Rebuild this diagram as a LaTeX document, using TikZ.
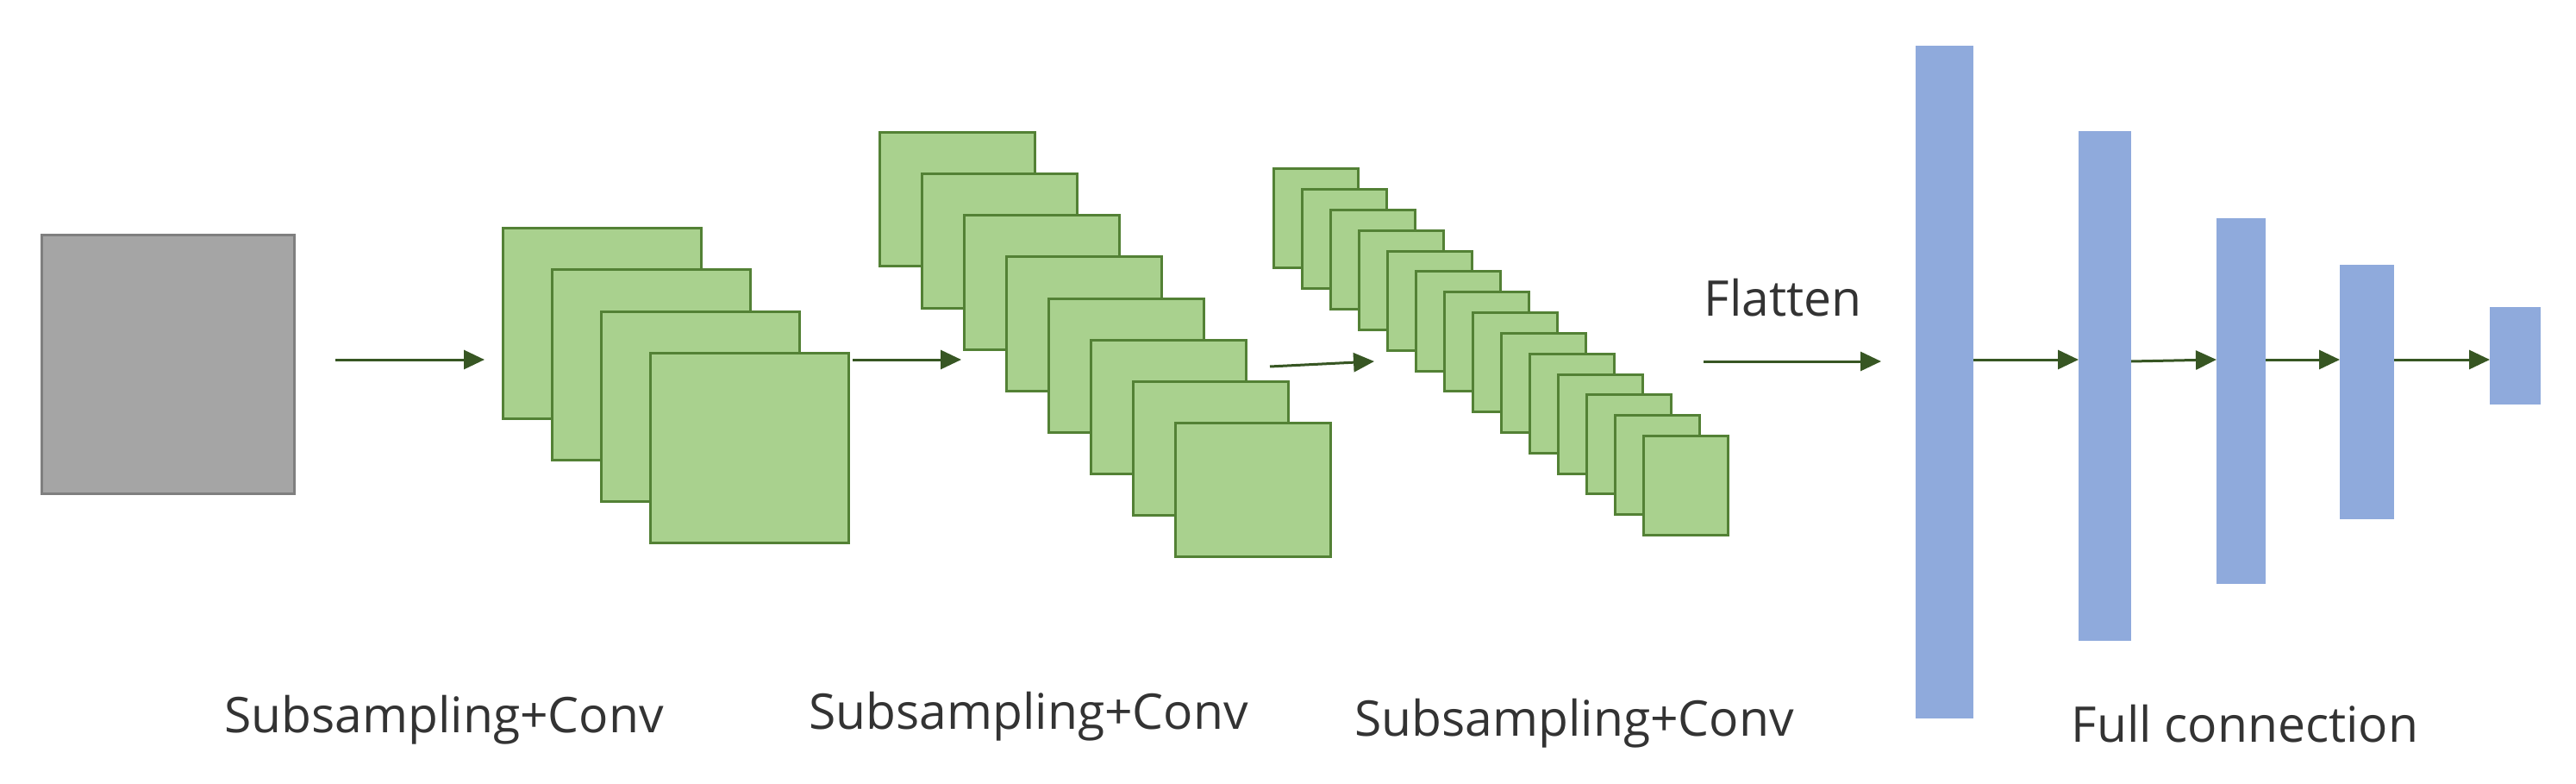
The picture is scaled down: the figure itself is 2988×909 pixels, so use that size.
\documentclass[tikz,border=0pt]{standalone}
\usepackage{fontspec}
\setmainfont{Open Sans}
\usetikzlibrary{arrows.meta}
\definecolor{gfill}{HTML}{A9D18E}
\definecolor{gdraw}{HTML}{538135}
\definecolor{grayf}{HTML}{A5A5A5}
\definecolor{grayd}{HTML}{7F7F7F}
\definecolor{bluef}{HTML}{8FAADC}
\definecolor{arrc}{HTML}{375623}
\begin{document}
\begin{tikzpicture}[x=1pt,y=-1pt,
  fm/.style={draw=gdraw,fill=gfill,line width=3pt,anchor=north west,inner sep=0pt,outer sep=0pt},
  bar/.style={fill=bluef,anchor=north west,inner sep=0pt,outer sep=0pt},
  arr/.style={draw=arrc,line width=3pt,-{Triangle[length=24pt,width=22pt]}},
  lbl/.style={font=\fontsize{57}{60}\selectfont,text=black!80}]
\useasboundingbox (0,0) rectangle (2988,909);
\node[draw=grayd,fill=grayf,line width=3pt,anchor=north west,inner sep=0pt,outer sep=0pt,minimum width=293pt,minimum height=299pt] (in) at (48,273) {};
\foreach \i in {0,...,3}{
  \node[fm,minimum width=230pt,minimum height=220pt] (g1\i) at ({583+57*\i},{265+48*\i}) {};
}
\foreach \i in {0,...,7}{
  \node[fm,minimum width=180pt,minimum height=155pt] (g2\i) at ({1020+49*\i},{154+48*\i}) {};
}
\foreach \i in {0,...,13}{
  \node[fm,minimum width=98pt,minimum height=115pt] (g3\i) at ({1477+33*\i},{196+23.8*\i}) {};
}
\node[bar,minimum width=67pt,minimum height=780pt] (b1) at (2222,53) {};
\node[bar,minimum width=61pt,minimum height=591pt] (b2) at (2411,152) {};
\node[bar,minimum width=57pt,minimum height=424pt] (b3) at (2571,253) {};
\node[bar,minimum width=63pt,minimum height=295pt] (b4) at (2714,307) {};
\node[bar,minimum width=59pt,minimum height=113pt] (b5) at (2888,356) {};
\coordinate (a0) at (389,417);
\coordinate (a0e) at (562,417);
\coordinate (a1) at (989,417);
\coordinate (a1e) at (1115,417);
\coordinate (a2) at (1473,425);
\coordinate (a3) at (1594,419);
\coordinate (af) at (1976,419);
\coordinate (afe) at (2182,419);
\coordinate (ah) at (0,417);
\draw[arr] (a0) -- (a0e);
\draw[arr] (a1) -- (a1e);
\draw[arr] (a2) -- (a3);
\draw[arr] (af) -- (afe);
\draw[arr] (b1.east |- ah) -- (b2.west |- ah);
\draw[arr] (b2.east |- a3) -- (b3.west |- ah);
\draw[arr] (b3.east |- ah) -- (b4.west |- ah);
\draw[arr] (b4.east |- ah) -- (b5.west |- ah);
\node[lbl] (t1) at (515,835) {Subsampling+Conv};
\node[lbl] (t2) at (1193,831) {Subsampling+Conv};
\node[lbl] (t3) at (1826,839) {Subsampling+Conv};
\node[lbl] (tf) at (2068,345) {Flatten};
\node[lbl] (tc) at (2604,839) {Full connection};
\end{tikzpicture}
\end{document}
